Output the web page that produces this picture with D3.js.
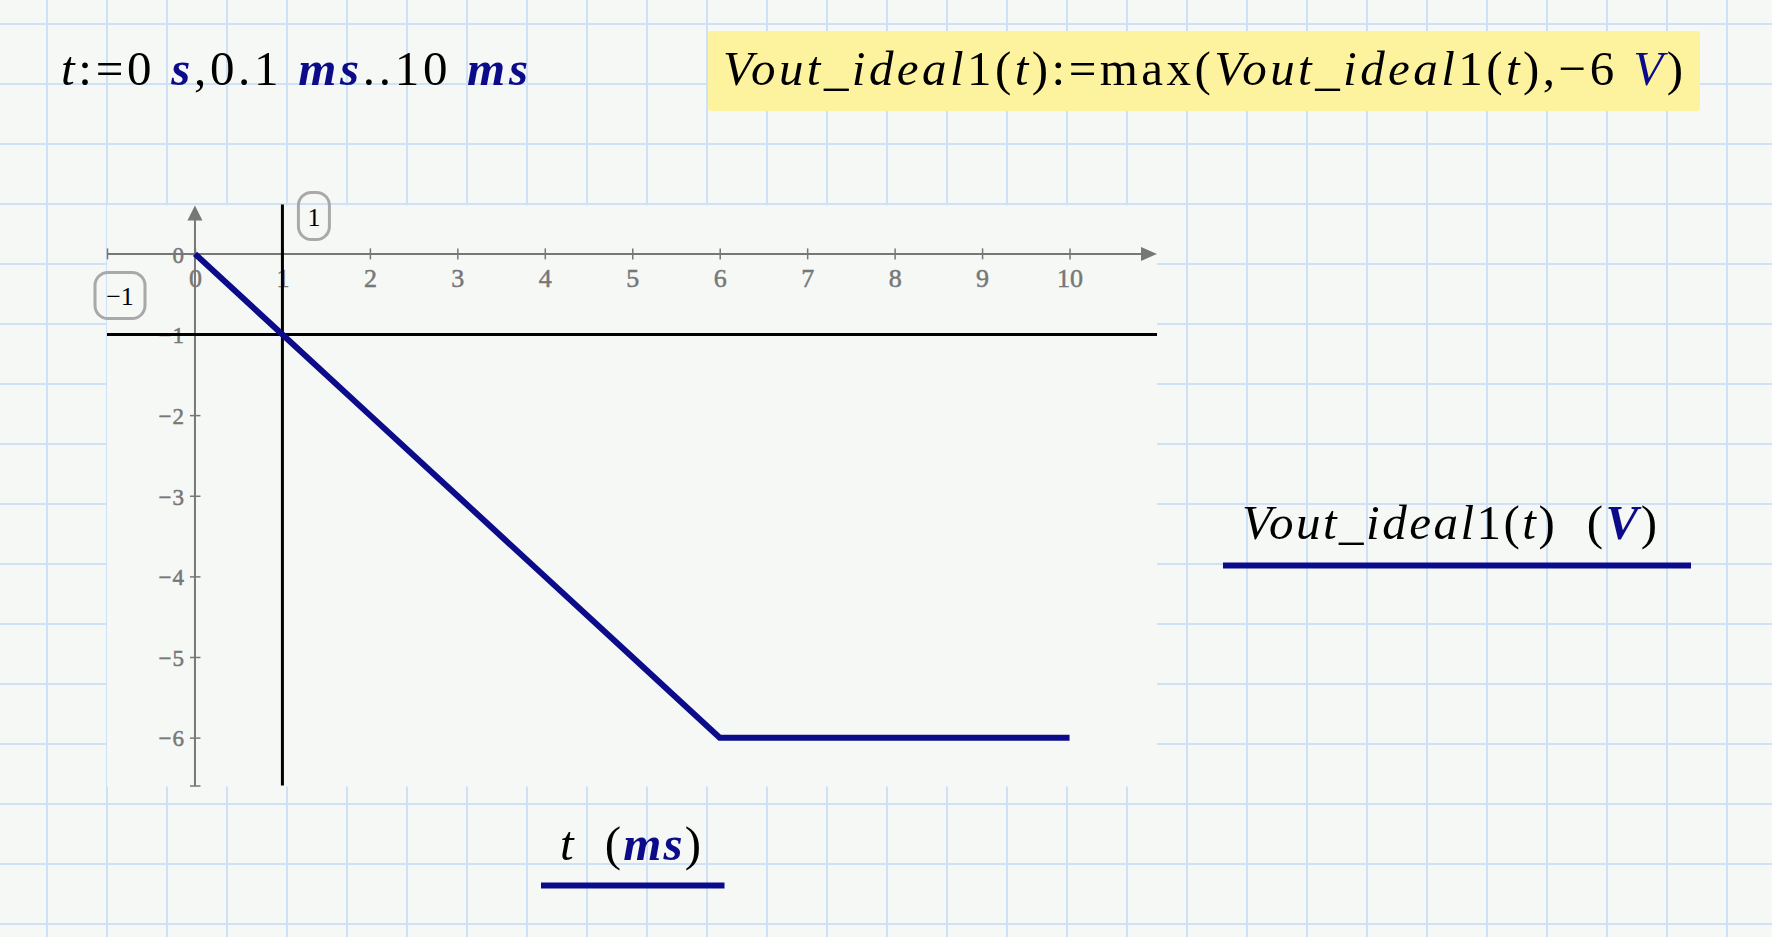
<!DOCTYPE html>
<html>
<head>
<meta charset="utf-8">
<script src="https://cdn.jsdelivr.net/npm/d3@7"></script>
<style>
  html, body { margin: 0; padding: 0; background: #f6f8f5; }
  svg { display: block; }
</style>
</head>
<body>
<svg id="sheet" width="1772" height="937"></svg>
<script>
// trace values (t in ms, Vout in V)
const tValues = [0, 1, 2, 3, 4, 5, 6, 7, 8, 9, 10];
const voutValues = [0, -1, -2, -3, -4, -5, -6, -6, -6, -6, -6];

// axis ticks
const xTickValues = [0, 1, 2, 3, 4, 5, 6, 7, 8, 9, 10];
const yTickValues = [0, -1, -2, -3, -4, -5, -6];

// marker lines
const xMarkers = [1];
const yMarkers = [-1];

const width = 1772, height = 937;
const navy = "#0c0c8a";
const axisGray = "#777777";
const serif = `"Liberation Serif", "DejaVu Serif", serif`;

const svg = d3.select("#sheet");

//worksheet background + grid
svg.append("rect")
  .attr("width", width)
  .attr("height", height)
  .attr("fill", "#f6f8f5");

const grid = svg.append("g")
  .attr("stroke", "#cfe1f7")
  .attr("stroke-width", 2);
d3.range(47, width, 60).forEach(gx => {
  grid.append("line").attr("x1", gx).attr("x2", gx).attr("y1", 0).attr("y2", height);
});
d3.range(24, height, 60).forEach(gy => {
  grid.append("line").attr("x1", 0).attr("x2", width).attr("y1", gy).attr("y2", gy);
});

// math text helper: parts = [[text, style], ...]
const styles = {
  i: { fill: "#000", "font-style": "italic", "font-weight": "normal" },
  r: { fill: "#000", "font-style": "normal", "font-weight": "normal" },
  u: { fill: navy, "font-style": "italic", "font-weight": "bold" },
  v: { fill: navy, "font-style": "italic", "font-weight": "normal" }
};
const mathText = (x, y, fitWidth, parts, size = 49) => {
  const t = svg.append("text")
    .attr("x", x)
    .attr("y", y)
    .attr("font-family", serif)
    .attr("font-size", size)
    .attr("textLength", fitWidth)
    .attr("lengthAdjust", "spacing")
    .style("white-space", "pre");
  parts.forEach(([txt, st]) => {
    const sp = t.append("tspan").text(txt);
    Object.entries(styles[st]).forEach(([k, v]) => sp.attr(k, v));
  });
  return t;
};

// range definition
mathText(61, 85, 467, [
  ["t", "i"], [":=0 ", "r"], ["s", "u"], [",0.1 ", "r"], ["ms", "u"],
  ["..10 ", "r"], ["ms", "u"]
]);

// highlighted formula
svg.append("rect")
  .attr("x", 708)
  .attr("y", 31)
  .attr("width", 992)
  .attr("height", 80)
  .attr("rx", 3)
  .attr("fill", "#fdf29e");
mathText(723, 85, 960, [
  ["Vout_ideal", "i"], ["1(", "r"], ["t", "i"], [")", "r"], [":=", "r"],
  ["max(", "r"], ["Vout_ideal", "i"], ["1(", "r"], ["t", "i"], ["),", "r"],
  ["−6 ", "r"], ["V", "v"], [")", "r"]
]);

// plot region
const plot = { left: 107, right: 1157, top: 205.5, bottom: 786.5 };
svg.append("rect")
  .attr("x", plot.left)
  .attr("y", plot.top)
  .attr("width", plot.right - plot.left)
  .attr("height", plot.bottom - plot.top)
  .attr("fill", "#f6f8f5");

//make scales
const xScale = d3.scaleLinear().domain([-1, 11]).range([107.5, 1157]);
const yScale = d3.scaleLinear().domain([-6.6, 0.6]).range([786, 205.5]);
const x0 = xScale(0), y0 = yScale(0);

//make axis
const xAxis = g => {
  g.attr("transform", `translate(0, ${y0})`)
    .call(d3.axisBottom(xScale).tickValues(xTickValues).tickSize(0).tickFormat(d3.format("d")));
  g.select(".domain").remove();
  g.selectAll(".tick line").attr("y1", -5.5).attr("y2", 5.5).attr("stroke", axisGray).attr("stroke-width", 1.5);
  g.selectAll(".tick text")
    .attr("y", 33)
    .attr("dy", null)
    .attr("fill", axisGray)
    .attr("stroke", axisGray)
    .attr("stroke-width", 0.5)
    .style("font-family", serif)
    .style("font-size", "26px");
  return g;
};
const yAxis = g => {
  g.attr("transform", `translate(${x0}, 0)`)
    .call(d3.axisLeft(yScale).tickValues(yTickValues).tickSize(0).tickFormat(d => d3.format("d")(d).replace("-", "−")));
  g.select(".domain").remove();
  g.selectAll(".tick line").attr("x1", -5).attr("x2", 5.5).attr("stroke", axisGray).attr("stroke-width", 1.5);
  g.selectAll(".tick text")
    .attr("x", -10)
    .attr("dy", "0.36em")
    .attr("fill", axisGray)
    .attr("stroke", axisGray)
    .attr("stroke-width", 0.5)
    .style("letter-spacing", "1px")
    .style("font-family", serif)
    .style("font-size", "23px");
  return g;
};

const axes = svg.append("g");
// axis lines with end caps and arrows
axes.append("line")
  .attr("x1", xScale(-1)).attr("x2", xScale(11) - 8)
  .attr("y1", y0).attr("y2", y0)
  .attr("stroke", axisGray).attr("stroke-width", 2);
axes.append("line")
  .attr("x1", xScale(-1)).attr("x2", xScale(-1))
  .attr("y1", y0 - 5.5).attr("y2", y0 + 5.5)
  .attr("stroke", axisGray).attr("stroke-width", 1.5);
axes.append("polygon")
  .attr("points", `${xScale(11)},${y0} ${xScale(11) - 16},${y0 - 7} ${xScale(11) - 16},${y0 + 7}`)
  .attr("fill", axisGray);

axes.append("line")
  .attr("x1", x0).attr("x2", x0)
  .attr("y1", yScale(0.6) + 8).attr("y2", yScale(-6.6))
  .attr("stroke", axisGray).attr("stroke-width", 2);
axes.append("line")
  .attr("x1", x0 - 5).attr("x2", x0 + 5.5)
  .attr("y1", yScale(-6.6)).attr("y2", yScale(-6.6))
  .attr("stroke", axisGray).attr("stroke-width", 1.5);
axes.append("polygon")
  .attr("points", `${x0},${yScale(0.6)} ${x0 - 7.5},${yScale(0.6) + 15} ${x0 + 7.5},${yScale(0.6) + 15}`)
  .attr("fill", axisGray);

axes.append("g").call(xAxis);
axes.append("g").call(yAxis);

// markers
xMarkers.forEach(m => {
  const mx = xScale(m);
  svg.append("line")
    .attr("x1", mx).attr("x2", mx)
    .attr("y1", plot.top - 1).attr("y2", plot.bottom - 1)
    .attr("stroke", "#000").attr("stroke-width", 3);
  svg.append("rect")
    .attr("x", mx + 16).attr("y", plot.top - 13)
    .attr("width", 31).attr("height", 47).attr("rx", 13)
    .attr("fill", "none").attr("stroke", "#a9a9a9").attr("stroke-width", 3);
  svg.append("text")
    .attr("x", mx + 31.5).attr("y", plot.top + 20)
    .attr("text-anchor", "middle")
    .style("font-family", serif).style("font-size", "26px")
    .text(d3.format("d")(m));
});
yMarkers.forEach(m => {
  const my = yScale(m);
  svg.append("line")
    .attr("x1", plot.left).attr("x2", plot.right)
    .attr("y1", my).attr("y2", my)
    .attr("stroke", "#000").attr("stroke-width", 3);
  svg.append("rect")
    .attr("x", plot.left - 12).attr("y", my - 62)
    .attr("width", 50).attr("height", 46).attr("rx", 13)
    .attr("fill", "none").attr("stroke", "#a9a9a9").attr("stroke-width", 3);
  svg.append("text")
    .attr("x", plot.left + 13).attr("y", my - 30)
    .attr("text-anchor", "middle")
    .style("font-family", serif).style("font-size", "26px")
    .text(d3.format("d")(m).replace("-", "−"));
});

// trace
const valueLine = d3.line()
  .x((d, i) => xScale(tValues[i]))
  .y(d => yScale(d));
svg.append("path")
  .datum(voutValues)
  .attr("d", valueLine)
  .attr("fill", "none")
  .attr("stroke", navy)
  .attr("stroke-width", 6)
  .attr("stroke-linejoin", "miter");

// y legend (trace name) + x label with underlines
mathText(1242, 539, 415, [
  ["Vout_ideal", "i"], ["1(", "r"], ["t", "i"], [")  (", "r"], ["V", "u"], [")", "r"]
]);
svg.append("line")
  .attr("x1", 1223).attr("x2", 1691)
  .attr("y1", 565.5).attr("y2", 565.5)
  .attr("stroke", navy).attr("stroke-width", 6);

mathText(560, 860, 141, [
  ["t", "i"], ["  (", "r"], ["ms", "u"], [")", "r"]
]);
svg.append("line")
  .attr("x1", 541).attr("x2", 724.5)
  .attr("y1", 885.5).attr("y2", 885.5)
  .attr("stroke", navy).attr("stroke-width", 6);
</script>
</body>
</html>
